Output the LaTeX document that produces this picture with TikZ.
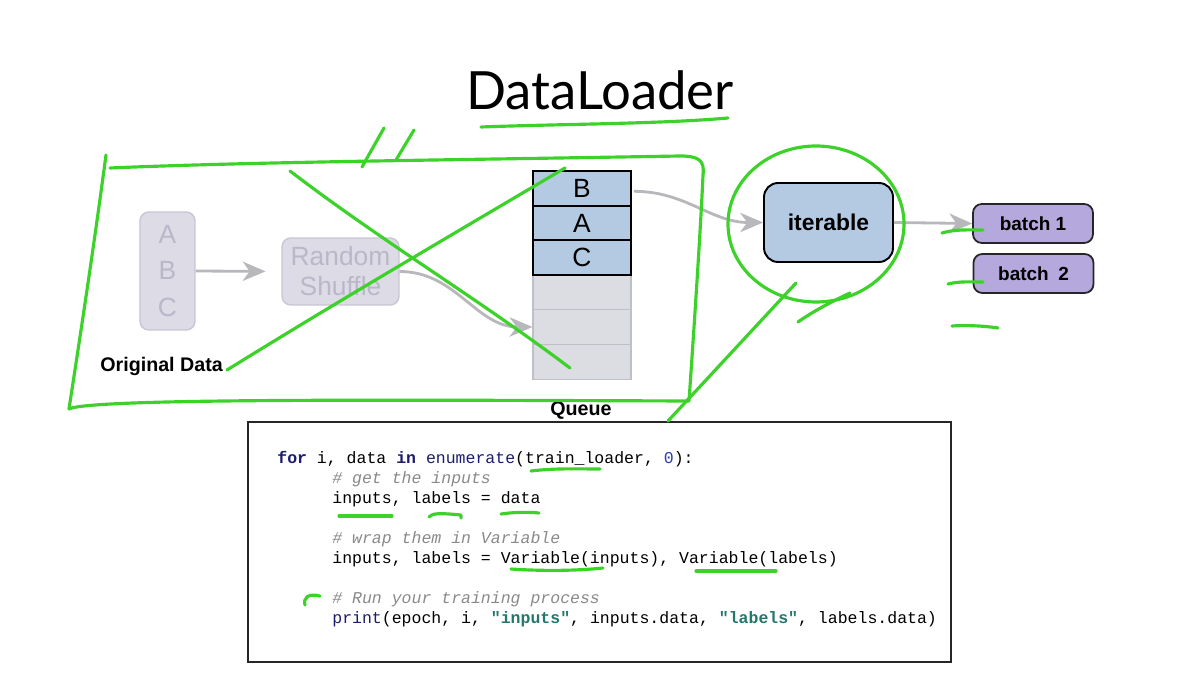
\documentclass[tikz,border=0pt]{standalone}
\usepackage{fontspec}
\setmainfont{Liberation Sans}
\newfontfamily\codefont{Liberation Mono}
\newfontfamily\titlefont{Lato}
\usetikzlibrary{arrows.meta}
\definecolor{qblue}{HTML}{B3CAE2}
\definecolor{bpurple}{HTML}{B4A8DC}
\definecolor{ghostfill}{HTML}{DDDBE6}
\definecolor{ghostline}{HTML}{C8C5D5}
\definecolor{ghosttext}{HTML}{BAB7C8}
\definecolor{cellfill}{HTML}{DCDCE3}
\definecolor{cellline}{HTML}{BFBFC8}
\definecolor{flow}{HTML}{B8B8BC}
\definecolor{scribble}{HTML}{3CD22A}
\definecolor{kw}{HTML}{1C1C70}
\definecolor{cm}{HTML}{8A8A8A}
\definecolor{st}{HTML}{23786C}
\definecolor{num}{HTML}{2A3AB0}
\begin{document}
\begin{tikzpicture}[x=0.02cm,y=-0.02cm,
  ghost/.style={draw=ghostline, fill=ghostfill, rounded corners=5pt, line width=0.8pt, text=ghosttext, font=\fontsize{15}{17}\selectfont, inner sep=0pt, align=center},
  cell/.style={draw=black, fill=qblue, line width=1pt, minimum width=1.96cm, minimum height=0.694cm, inner sep=0pt, font=\fontsize{15}{17}\selectfont},
  freecell/.style={draw=cellline, fill=cellfill, line width=0.6pt, minimum width=1.96cm, minimum height=0.694cm, inner sep=0pt},
  batchbox/.style={draw=black!85, fill=bpurple, line width=1pt, rounded corners=5pt, minimum width=2.4cm, minimum height=0.78cm, inner sep=0pt, font=\bfseries\fontsize{10.8}{12}\selectfont},
  label/.style={font=\bfseries\fontsize{11.2}{13}\selectfont, inner sep=0pt},
  flowarrow/.style={draw=flow, line width=1.6pt, -{Stealth[length=13pt,width=11pt,inset=4pt]}},
  code/.style={font=\codefont\fontsize{9.4}{11}\selectfont\frenchspacing, inner sep=0pt, anchor=base west},
  hand/.style={draw=scribble, line width=1.8pt, line cap=round, line join=round}]
\fill[white] (0,0) rectangle (1200,675);
\useasboundingbox (0,0) rectangle (1200,675);

\node[font=\titlefont\fontsize{30}{34}\selectfont, inner sep=0pt] (title) at (600,90) {DataLoader};

% faded part
\node[ghost, minimum width=1.1cm, minimum height=2.36cm] (src) at (167.5,271) {A\\[4pt]B\\[4pt]C};
\node[ghost, minimum width=2.34cm, minimum height=1.34cm] (shuffle) at (340.5,271.5) {Random\\Shuffle};
\node[label, anchor=west] (orig) at (100,366) {Original Data};

% queue
\foreach \i/\y in {4/292.3,5/327,6/361.7}
  \node[freecell] (q\i) at (582,\y) {};
\node[cell] (q1) at (582,188.3) {B};
\node[cell] (q2) at (582,223) {A};
\node[cell] (q3) at (582,257.7) {C};
\node[label] (queue) at (581,411) {Queue};

\node[draw=black, fill=qblue, line width=1.1pt, rounded corners=8pt, minimum width=2.58cm, minimum height=1.58cm, font=\bfseries\fontsize{13}{15}\selectfont] (iter) at (828.5,222.5) {iterable};
\node[batchbox] (b1) at (1033,223.5) {batch 1};
\node[batchbox] (b2) at (1033.5,273.5) {batch\enspace 2};

\draw[flowarrow, shorten >=9pt] (src.east) -- (shuffle.west);
\draw[flowarrow] (shuffle.east) to[out=0, in=180] (q5.west);
\draw[flowarrow] (q1.east) ++(2,3) to[out=0, in=180] (iter.west);
\draw[flowarrow] (iter.east) -- (b1.west);

% code
\node[draw=black!85, line width=1.3pt, minimum width=14.06cm, minimum height=4.8cm] (codebox) at (599.5,542) {};
\node[code] (l1) at (277,463) {{\bfseries\color{kw}for} i, data {\bfseries\color{kw}in} {\color{kw}enumerate}(train\_loader, {\color{num}0}):};
\node[code] (l2) at (332,483) {\itshape\color{cm}\# get the inputs};
\node[code] (l3) at (332,503) {inputs, labels = data};
\node[code] (l4) at (332,543) {\itshape\color{cm}\# wrap them in Variable};
\node[code] (l5) at (332,563) {inputs, labels = Variable(inputs), Variable(labels)};
\node[code] (l6) at (332,603) {\itshape\color{cm}\# Run your training process};
\node[code] (l7) at (332,623) {{\color{kw}print}(epoch, i, {\bfseries\color{st}"inputs"}, inputs.data, {\bfseries\color{st}"labels"}, labels.data)};

% green scribbles
\draw[hand] (481,127) .. controls (560,124) and (660,124) .. (728,118);
\draw[hand] (106,155) .. controls (92,260) and (78,350) .. (69,409) .. controls (90,398) and (400,400) .. (689,401)
  .. controls (696,300) and (701,220) .. (703,175) .. controls (705,160) and (698,156) .. (680,156)
  .. controls (450,160) and (250,162) .. (110,168);
\draw[hand] (362,167) -- (384,128);
\draw[hand] (396,160) -- (414,130);
\draw[hand] (290,171) .. controls (380,240) and (480,300) .. (570,368);
\draw[hand] (227,370) .. controls (340,300) and (460,230) .. (565,168);
\draw[hand] (816,224) ellipse [x radius=88, y radius=78];
\draw[hand] (796,283) -- (668,421);
\draw[hand] (798,322) .. controls (815,310) and (835,300) .. (850,293);
\draw[hand] (942,233) .. controls (955,229) and (970,230) .. (983,230);
\draw[hand] (948,284) .. controls (960,281) and (972,282) .. (983,282);
\draw[hand] (952,326) .. controls (968,325) and (985,326) .. (998,328);
\draw[hand] (531,471) .. controls (555,468) and (580,469) .. (600,469);
\draw[hand] (339,516) -- (392,516);
\draw[hand] (429,517) .. controls (432,513) and (440,513) .. (461,515) -- (461,518);
\draw[hand] (501,514) .. controls (515,512) and (528,512) .. (539,513);
\draw[hand] (511,569) .. controls (540,571) and (575,571) .. (603,568);
\draw[hand] (696,571) -- (776,571);
\draw[hand] (305,605) .. controls (303,598) and (308,593) .. (320,596);
\end{tikzpicture}
\end{document}
